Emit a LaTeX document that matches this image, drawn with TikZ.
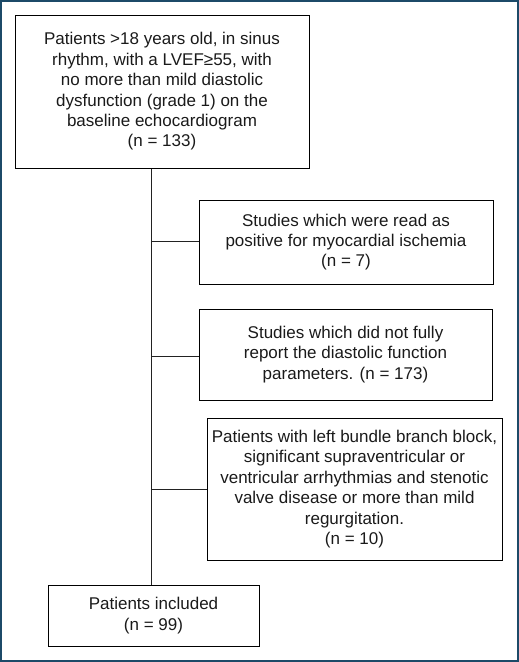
\documentclass[tikz,border=0pt]{standalone}
\usepackage{fontspec}
\setmainfont{Liberation Sans}
\definecolor{framec}{HTML}{1C4A68}
\definecolor{txt}{HTML}{1A1A1A}
\definecolor{linec}{HTML}{222222}
\begin{document}
\begin{tikzpicture}[x=1pt,y=-1pt,
  box/.style={draw=black, line width=1pt, rectangle, inner sep=0pt, align=center,
    text=txt, font=\fontsize{17}{20.4}\selectfont},
  conn/.style={draw=linec, line width=0.9pt}]
\useasboundingbox (0,0) rectangle (519,662);
\draw[framec, line width=2.2pt] (1.1,1.1) rectangle (517.9,660.9);
\node[box, minimum width=294pt, minimum height=153pt] (top) at (162,91.5)
  {Patients >18 years old, in sinus\\rhythm, with a LVEF≥55, with\\no more than mild diastolic\\dysfunction (grade 1) on the\\baseline echocardiogram\\(n = 133)};
\node[box, minimum width=294pt, minimum height=84pt] (b2) at (346,242)
  {Studies which were read as\\positive for myocardial ischemia\\(n = 7)};
\node[box, minimum width=293pt, minimum height=91pt] (b3) at (345.5,354.5)
  {Studies which did not fully\\report the diastolic function\\parameters. (n = 173)};
\node[box, minimum width=295pt, minimum height=142pt] (b4) at (354.5,489)
  {Patients with left bundle branch block,\\significant supraventricular or\\ventricular arrhythmias and stenotic\\valve disease or more than mild\\regurgitation.\\(n = 10)};
\node[box, minimum width=211pt, minimum height=61pt] (bot) at (153.5,615.5)
  {Patients included\\(n = 99)};
\coordinate (j1) at (151,241);
\coordinate (j2) at (151,356);
\coordinate (j3) at (151,489);
\draw[conn] (top.south -| j1) -- (bot.north -| j1);
\draw[conn] (j1) -- (j1 -| b2.west);
\draw[conn] (j2) -- (j2 -| b3.west);
\draw[conn] (j3) -- (j3 -| b4.west);
\end{tikzpicture}
\end{document}
